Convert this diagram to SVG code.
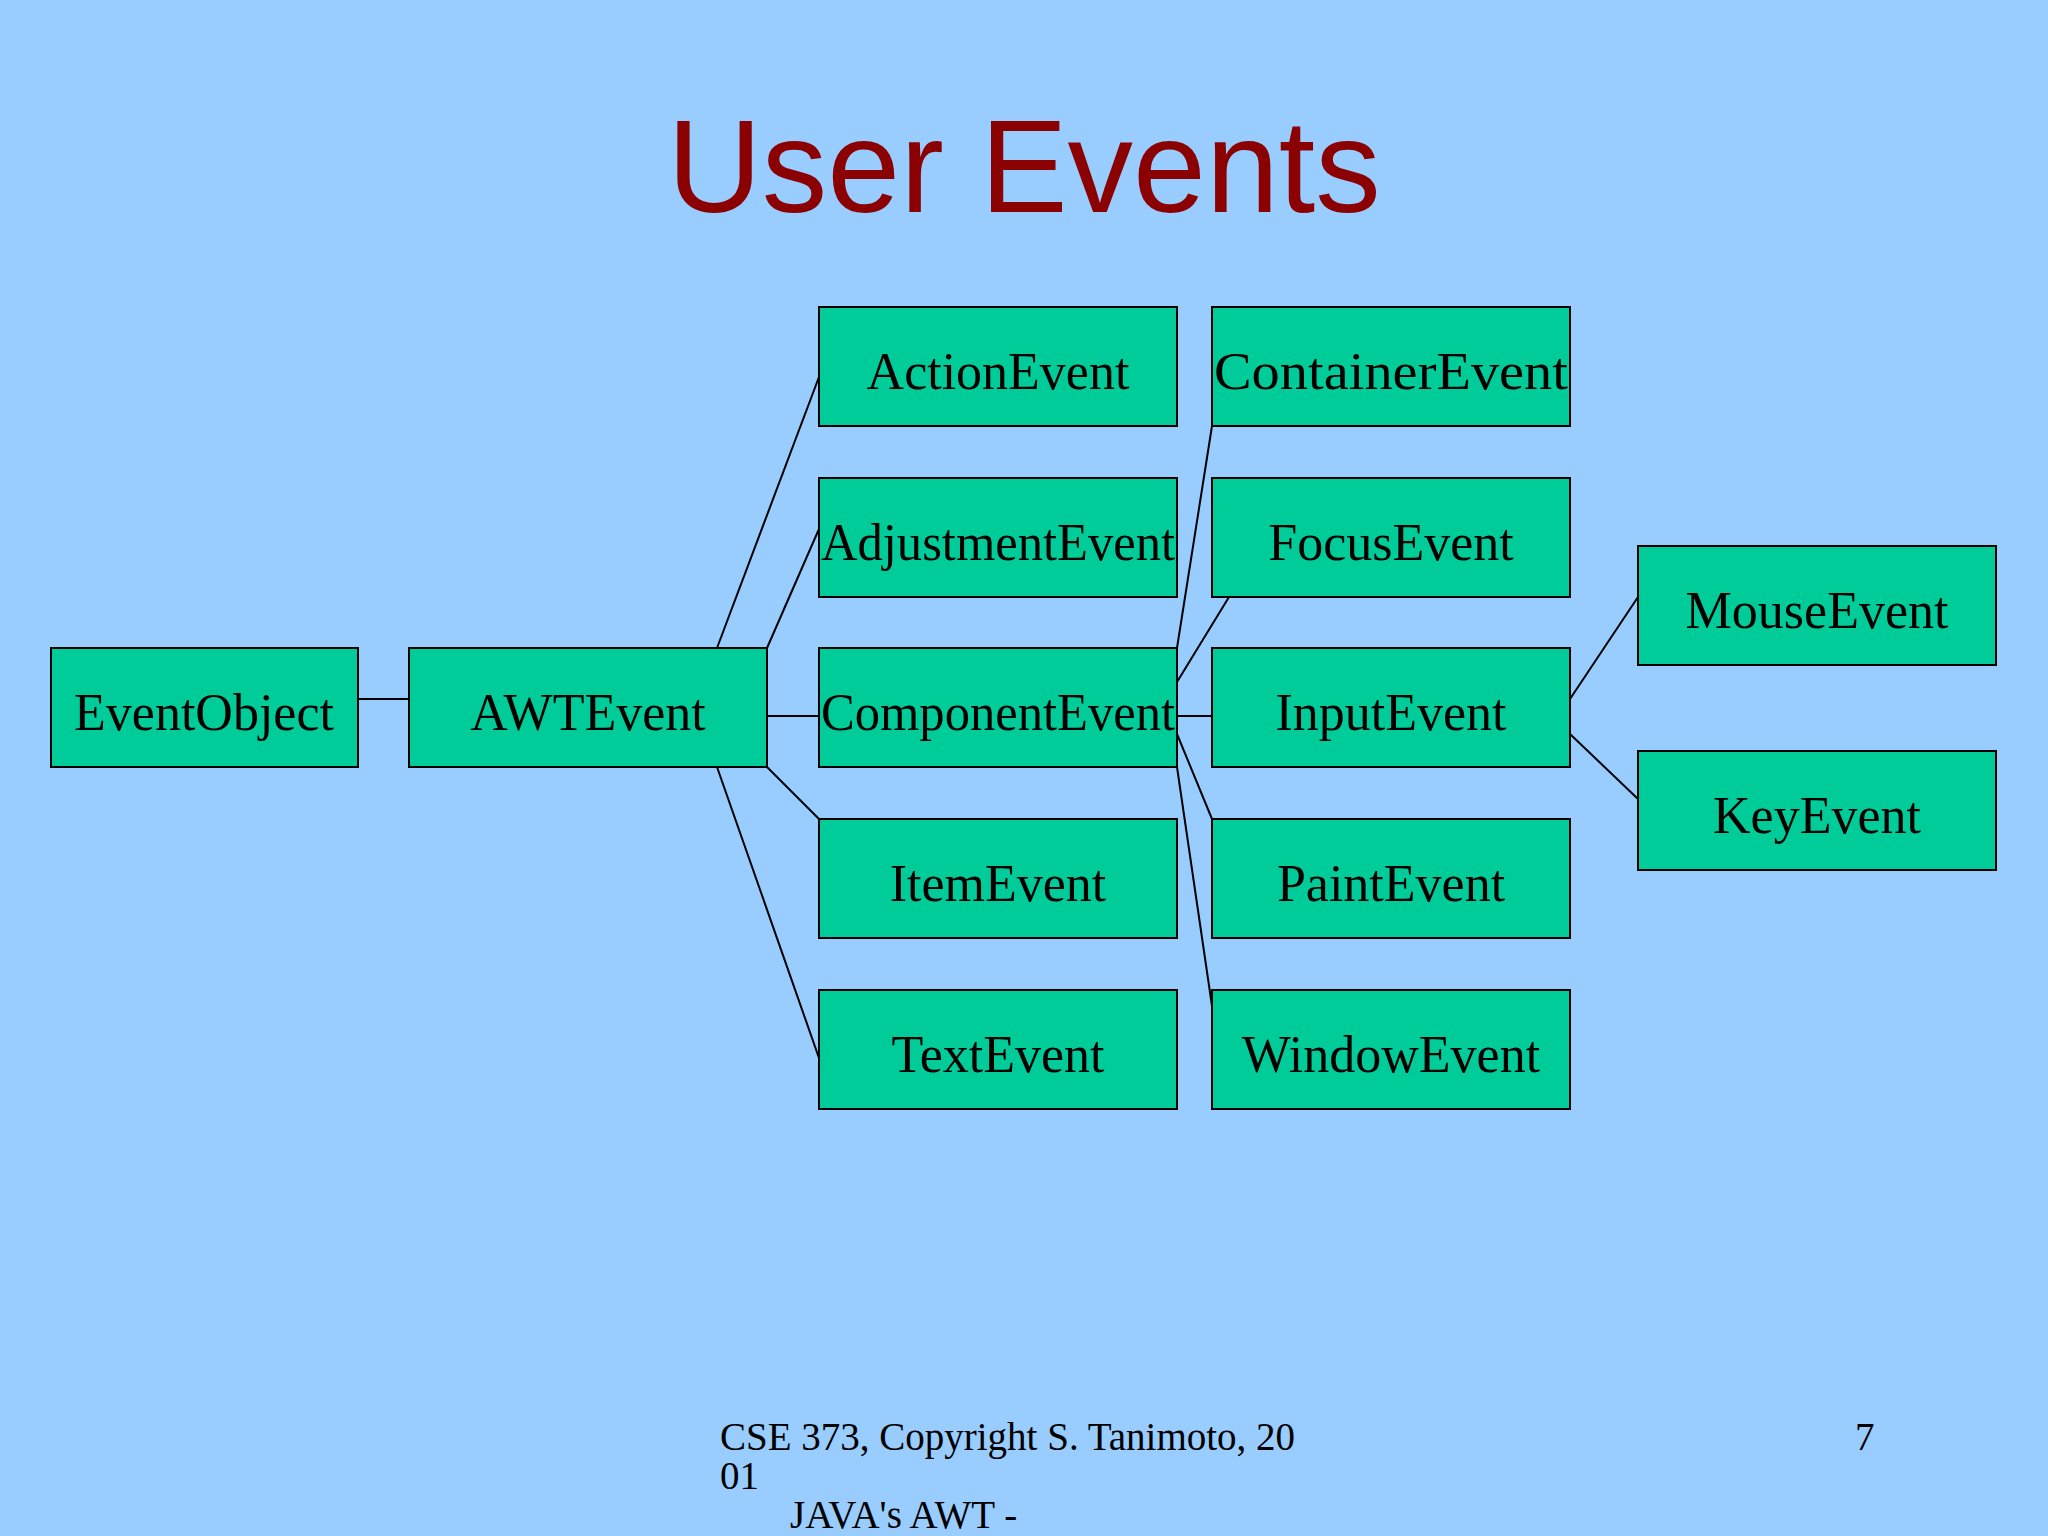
<svg xmlns="http://www.w3.org/2000/svg" width="2048" height="1536" viewBox="0 0 2048 1536">
<style>
.b rect{fill:#00CC99;stroke:#000;stroke-width:2}
.b text{font-family:"Liberation Serif",serif;font-size:52px;text-anchor:middle;fill:#000}
#c line{stroke:#000;stroke-width:2}
.f{font-family:"Liberation Serif",serif;font-size:39px;fill:#000}
</style>
<rect width="2048" height="1536" fill="#99CCFF"/>
<text x="1024" y="212" font-family="Liberation Sans,Arial,sans-serif" font-size="131" fill="#8B0000" text-anchor="middle">User Events</text>
<g id="c">
<line x1="358" y1="699" x2="409" y2="699"/>
<line x1="717" y1="648" x2="819" y2="377"/>
<line x1="767" y1="648" x2="819" y2="529"/>
<line x1="767" y1="716" x2="819" y2="716"/>
<line x1="767" y1="767" x2="819" y2="819"/>
<line x1="717" y1="767" x2="819" y2="1058"/>
<line x1="1177" y1="648" x2="1212" y2="426"/>
<line x1="1177" y1="682" x2="1229" y2="597"/>
<line x1="1177" y1="716" x2="1212" y2="716"/>
<line x1="1177" y1="734" x2="1212" y2="819"/>
<line x1="1177" y1="767" x2="1212" y2="1006"/>
<line x1="1570" y1="699" x2="1638" y2="597"/>
<line x1="1570" y1="734" x2="1638" y2="799"/>
</g>
<g id="EventObject" class="b"><rect x="51" y="648" width="307" height="119"/><text x="204" y="730">EventObject</text></g>
<g id="AWTEvent" class="b"><rect x="409" y="648" width="358" height="119"/><text x="588" y="730">AWTEvent</text></g>
<g id="ActionEvent" class="b"><rect x="819" y="307" width="358" height="119"/><text x="998" y="389">ActionEvent</text></g>
<g id="AdjustmentEvent" class="b"><rect x="819" y="478" width="358" height="119"/><text x="998" y="560" textLength="354" lengthAdjust="spacingAndGlyphs">AdjustmentEvent</text></g>
<g id="ComponentEvent" class="b"><rect x="819" y="648" width="358" height="119"/><text x="998" y="730" textLength="354" lengthAdjust="spacingAndGlyphs">ComponentEvent</text></g>
<g id="ItemEvent" class="b"><rect x="819" y="819" width="358" height="119"/><text x="998" y="901">ItemEvent</text></g>
<g id="TextEvent" class="b"><rect x="819" y="990" width="358" height="119"/><text x="998" y="1072">TextEvent</text></g>
<g id="ContainerEvent" class="b"><rect x="1212" y="307" width="358" height="119"/><text x="1391" y="389" textLength="354" lengthAdjust="spacingAndGlyphs">ContainerEvent</text></g>
<g id="FocusEvent" class="b"><rect x="1212" y="478" width="358" height="119"/><text x="1391" y="560">FocusEvent</text></g>
<g id="InputEvent" class="b"><rect x="1212" y="648" width="358" height="119"/><text x="1391" y="730">InputEvent</text></g>
<g id="PaintEvent" class="b"><rect x="1212" y="819" width="358" height="119"/><text x="1391" y="901">PaintEvent</text></g>
<g id="WindowEvent" class="b"><rect x="1212" y="990" width="358" height="119"/><text x="1391" y="1072">WindowEvent</text></g>
<g id="MouseEvent" class="b"><rect x="1638" y="546" width="358" height="119"/><text x="1817" y="628">MouseEvent</text></g>
<g id="KeyEvent" class="b"><rect x="1638" y="751" width="358" height="119"/><text x="1817" y="833">KeyEvent</text></g>
<text class="f" x="720" y="1450">CSE 373,  Copyright S. Tanimoto, 20</text>
<text class="f" x="720" y="1489">01</text>
<text class="f" x="790" y="1528">JAVA's AWT -</text>
<text class="f" x="1855" y="1450">7</text>
</svg>
